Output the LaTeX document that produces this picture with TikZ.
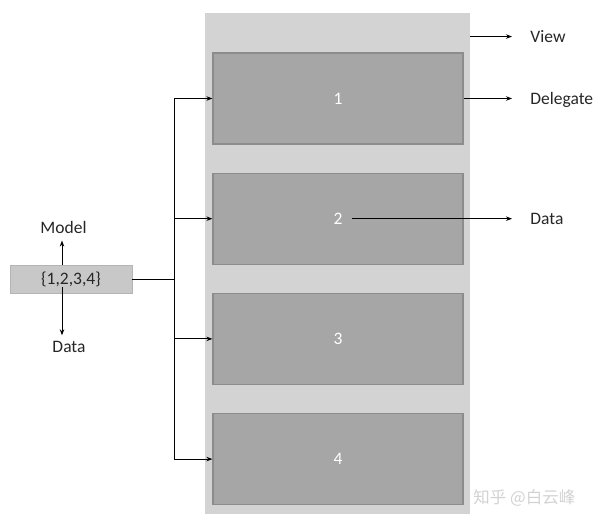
\documentclass[tikz,border=0pt]{standalone}
\usepackage{fontspec}
\setmainfont{Carlito}
\newfontfamily\cjk{Noto Sans CJK SC}
\usetikzlibrary{calc, positioning, arrows.meta}
\definecolor{panelgray}{HTML}{D3D3D3}
\definecolor{cellgray}{HTML}{A6A6A6}
\definecolor{cellline}{HTML}{8C8C8C}
\definecolor{listgray}{HTML}{C8C8C8}
\definecolor{listline}{HTML}{B4B4B4}
\definecolor{inkgray}{HTML}{262626}

\begin{document}
\begin{tikzpicture}[x=1pt, y=1pt, node distance=28pt, line width=0.9pt, >={Stealth[length=6pt,width=4.5pt]}, font=\fontsize{17.5}{20}\selectfont]
		\tikzstyle{cell} = [draw=cellline, line width=1.2pt, fill=cellgray, minimum width=250pt, minimum height=91pt, text=white, inner sep=0pt]
		\tikzstyle{label} = [text=inkgray, inner sep=0pt]

		\useasboundingbox (0,0) rectangle (600,524);

		% the view and its cells
		\node[fill=panelgray, minimum width=265pt, minimum height=501pt, inner sep=0pt] (view) at (337.5,260.5) {};
		\node[cell] (c1) at (338,425.5) {1};
		\node[cell, below=of c1] (c2) {2};
		\node[cell, below=of c2] (c3) {3};
		\node[cell, below=of c3] (c4) {4};

		% the model
		\node[fill=listgray, draw=listline, line width=0.6pt, minimum width=122pt, minimum height=28pt, inner sep=0pt, text=inkgray] (list) at (71,245) {\{1,2,3,4\}};
		\node[label, anchor=base] (model) at (63.5,290) {Model};
		\node[label, anchor=base] (data) at (69,171) {Data};
		\draw[->] ([xshift=-9pt]list.north) -- ([xshift=-9pt,yshift=-6pt]list.north |- model.south);
		\draw[->] ([xshift=-9pt,yshift=6pt]list.south) -- ([xshift=-9pt,yshift=6pt]list.south |- data.north);

		% bus to the cells
		\coordinate (bus) at (174,0);
		\draw (list.east) -- (list.east -| bus);
		\draw (c1.west -| bus) -- (c4.west -| bus);
		\foreach \i in {1,...,4}
			\draw[->] (c\i.west -| bus) -- (c\i.west);

		% the roles on the right
		\coordinate (out) at (512,0);
		\coordinate (viewtap) at ($(view.north east)+(0,-24)$);
		\node[label, anchor=base west] (viewlbl) at (530,481) {View};
		\node[label, anchor=base west] (delegate) at (530,419) {Delegate};
		\node[label, anchor=base west] (datalbl) at (530,299) {Data};
		\draw[->] (viewtap) -- (viewtap -| out);
		\draw[->] (c1.east) -- (c1.east -| out);
		\draw[->] ([xshift=14pt]c2.center) -- (c2.center -| out);

		\node[text=gray!35, inner sep=0pt, anchor=base west, font=\cjk\fontsize{16.5}{18}\selectfont] (mark) at (473,20) {知乎 @白云峰};
	\end{tikzpicture}
\end{document}
